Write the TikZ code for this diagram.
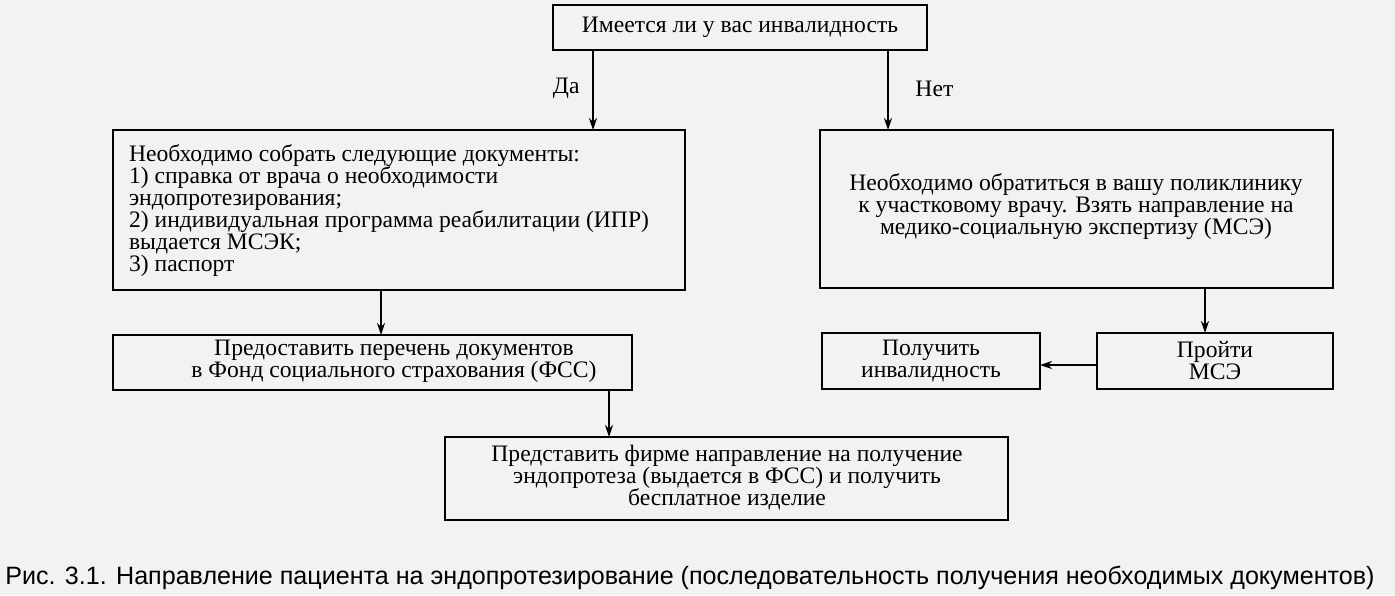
\documentclass[tikz,border=0pt]{standalone}
\usepackage{fontspec}
\setmainfont{Liberation Serif}
\newfontfamily\capfont{Liberation Sans}
\usetikzlibrary{arrows.meta}
\begin{document}
\begin{tikzpicture}[x=0.5pt,y=-0.5pt,
  box/.style={draw,line width=0.9pt},
  txt/.style={font=\fontsize{11.8}{11}\selectfont,align=center},
  arr/.style={-{Stealth[length=6pt,width=4pt]},line width=0.8pt}]
\fill[gray!10] (0,0) rectangle (1395,595);
\useasboundingbox (0,0) rectangle (1395,595);
\draw[box] (553,5) rectangle (927,50);
\node[txt] (q) at (740,27) {Имеется ли у вас инвалидность};
\coordinate (qa) at (593,50); \coordinate (qb) at (888,50);
\draw[box] (113,130) rectangle (685,290);
\node[txt,align=left,anchor=west] (docs) at (122,211) {Необходимо собрать следующие документы:\\1) справка от врача о необходимости\\эндопротезирования;\\2) индивидуальная программа реабилитации (ИПР)\\выдается МСЭК;\\3) паспорт};
\draw[box] (820,130) rectangle (1333,288);
\node[txt] (poli) at (1076,207) {Необходимо обратиться в вашу поликлинику\\к участковому врачу. Взять направление на\\медико-социальную экспертизу (МСЭ)};
\draw[box] (113,335) rectangle (632,390);
\node[txt] (fss) at (394,361) {Предоставить перечень документов\\в Фонд социального страхования (ФСС)};
\draw[box] (822,333) rectangle (1040,389);
\node[txt] (inv) at (931,361) {Получить\\инвалидность};
\draw[box] (1097,333) rectangle (1333,389);
\node[txt] (mse) at (1215,361) {Пройти\\МСЭ};
\draw[box] (445,437) rectangle (1008,520);
\node[txt] (firm) at (727,478) {Представить фирме направление на получение\\эндопротеза (выдается в ФСС) и получить\\бесплатное изделие};
\coordinate (a1) at (593,130); \coordinate (a2) at (888,130);
\draw[arr] (qa) -- node[pos=0.48,left=3pt,txt]{Да} (a1);
\draw[arr] (qb) -- node[pos=0.48,right=10pt,txt]{Нет} (a2);
\coordinate (d1) at (381,290); \coordinate (d2) at (381,335);
\draw[arr] (d1) -- (d2);
\coordinate (p1) at (1205,288); \coordinate (p2) at (1205,333);
\draw[arr] (p1) -- (p2);
\coordinate (m1) at (1097,365); \coordinate (m2) at (1040,365);
\draw[arr] (m1) -- (m2);
\coordinate (f1) at (609,390); \coordinate (f2) at (609,437);
\draw[arr] (f1) -- (f2);
\node[font=\capfont\fontsize{12.55}{14}\selectfont,anchor=west,inner sep=0pt] (cap) at (5,578) {Рис. 3.1. Направление пациента на эндопротезирование (последовательность получения необходимых документов)};
\end{tikzpicture}
\end{document}
